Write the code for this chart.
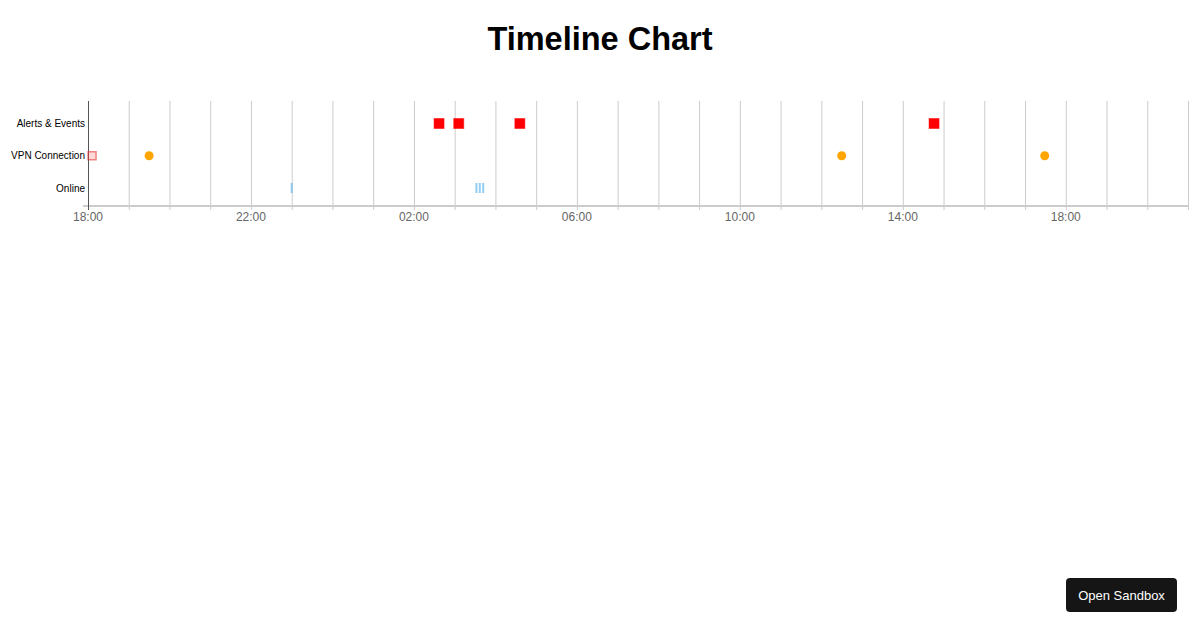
<!DOCTYPE html>
<html>
<head>
<meta charset="utf-8">
<script src="https://cdn.jsdelivr.net/npm/d3@7"></script>
<style>
  body { margin: 0; font-family: "Liberation Sans", Arial, sans-serif; background: #fff; }
  h1 { text-align: center; font-size: 32.5px; margin: 21px 0 0 0; line-height: 37px; }
  #wrapper { position: absolute; top: 0; left: 0; }
  .tick-label { fill: #666; font-size: 12px; }
  .row-label { fill: #000; font-size: 10px; }
  .grid-line { stroke: #ccc; stroke-width: 1; }
  #sandbox-btn {
    position: absolute; left: 1066px; top: 578px; width: 111px; height: 34px;
    background: #151515; color: #fff; border-radius: 4px; font-size: 13px;
    display: flex; align-items: center; justify-content: center;
  }
</style>
</head>
<body>
<h1>Timeline Chart</h1>
<div id="wrapper"></div>
<div id="sandbox-btn">Open Sandbox</div>
<script>
const categories = ["Alerts & Events", "VPN Connection", "Online"]
const timeDomain = ["2024-01-01T18:00", "2024-01-02T21:00"]

const alertTimes = ["2024-01-02T02:37", "2024-01-02T03:06", "2024-01-02T04:36", "2024-01-02T14:46"]
const vpnStartTimes = ["2024-01-01T18:06"]
const vpnTimes = ["2024-01-01T19:30", "2024-01-02T12:30", "2024-01-02T17:29"]
const onlineTimes = ["2024-01-01T23:00", "2024-01-02T03:32", "2024-01-02T03:37", "2024-01-02T03:42"]

const drawChart = () => {
  const parseTime = d3.timeParse("%Y-%m-%dT%H:%M")

  // dimensions
  const dimensions = {
    width: 1200,
    height: 630,
    margin: { top: 101, left: 88, right: 12 },
    boundedWidth: 0,
    boundedHeight: 104,
  }
  dimensions.boundedWidth =
    dimensions.width - dimensions.margin.left - dimensions.margin.right

  const wrapper = d3
    .select("#wrapper")
    .append("svg")
    .attr("width", dimensions.width)
    .attr("height", dimensions.height)

  const bounds = wrapper
    .append("g")
    .attr("transform", `translate(${dimensions.margin.left}, ${dimensions.margin.top})`)

  // scales
  const xScale = d3
    .scaleTime()
    .domain(timeDomain.map(parseTime))
    .range([0, dimensions.boundedWidth])

  const yScale = d3
    .scalePoint()
    .domain(categories)
    .range([22.5, 87])

  const [start, end] = xScale.domain()

  // grid, one line per hour
  const hours = d3.timeHour.range(start, d3.timeHour.offset(end, 1))
  bounds
    .append("g")
    .selectAll("line")
    .data(hours)
    .join("line")
    .attr("class", "grid-line")
    .attr("x1", (d) => xScale(d) + 0.5)
    .attr("x2", (d) => xScale(d) + 0.5)
    .attr("y1", 0)
    .attr("y2", dimensions.boundedHeight + 5)

  // x axis
  bounds
    .append("line")
    .attr("x1", -5)
    .attr("x2", dimensions.boundedWidth)
    .attr("y1", dimensions.boundedHeight + 1)
    .attr("y2", dimensions.boundedHeight + 1)
    .attr("stroke", "#ccc")
    .attr("stroke-width", 2)

  // labels every 4 hours, counted from the start
  bounds
    .append("g")
    .selectAll("text")
    .data(d3.timeHour.range(start, end, 4))
    .join("text")
    .attr("class", "tick-label")
    .attr("x", (d) => xScale(d))
    .attr("y", dimensions.boundedHeight + 16)
    .attr("text-anchor", "middle")
    .text(d3.timeFormat("%H:%M"))

  // y axis
  bounds
    .append("line")
    .attr("x1", 0.5)
    .attr("x2", 0.5)
    .attr("y1", 0)
    .attr("y2", dimensions.boundedHeight + 5)
    .attr("stroke", "#555")

  bounds
    .append("g")
    .selectAll("text")
    .data(categories)
    .join("text")
    .attr("class", "row-label")
    .attr("x", -3)
    .attr("y", (d) => yScale(d))
    .attr("dy", "0.35em")
    .attr("text-anchor", "end")
    .text((d) => d)

  // alerts
  const sq = 10
  bounds
    .append("g")
    .selectAll("rect")
    .data(alertTimes.map(parseTime))
    .join("rect")
    .attr("x", (d) => xScale(d) - sq / 2)
    .attr("y", yScale("Alerts & Events") - sq / 2)
    .attr("width", sq)
    .attr("height", sq)
    .attr("fill", "#ff0000")
    .attr("stroke", "rgba(255,0,0,0.5)")
    .attr("stroke-width", 1)

  // vpn start marker
  bounds
    .append("g")
    .selectAll("rect")
    .data(vpnStartTimes.map(parseTime))
    .join("rect")
    .attr("x", (d) => xScale(d) - 4)
    .attr("y", yScale("VPN Connection") - 4)
    .attr("width", 8)
    .attr("height", 8)
    .attr("fill", "rgba(255,0,0,0.15)")
    .attr("stroke", "rgba(230,60,60,0.6)")
    .attr("stroke-width", 1.5)

  // vpn events
  bounds
    .append("g")
    .selectAll("circle")
    .data(vpnTimes.map(parseTime))
    .join("circle")
    .attr("cx", (d) => xScale(d))
    .attr("cy", yScale("VPN Connection"))
    .attr("r", 4.5)
    .attr("fill", "#ffa500")

  // online
  bounds
    .append("g")
    .selectAll("rect")
    .data(onlineTimes.map(parseTime))
    .join("rect")
    .attr("x", (d) => xScale(d) - 1)
    .attr("y", yScale("Online") - 5)
    .attr("width", 2)
    .attr("height", 10)
    .attr("fill", "rgba(100,185,235,0.7)")
}

drawChart()
</script>
</body>
</html>
